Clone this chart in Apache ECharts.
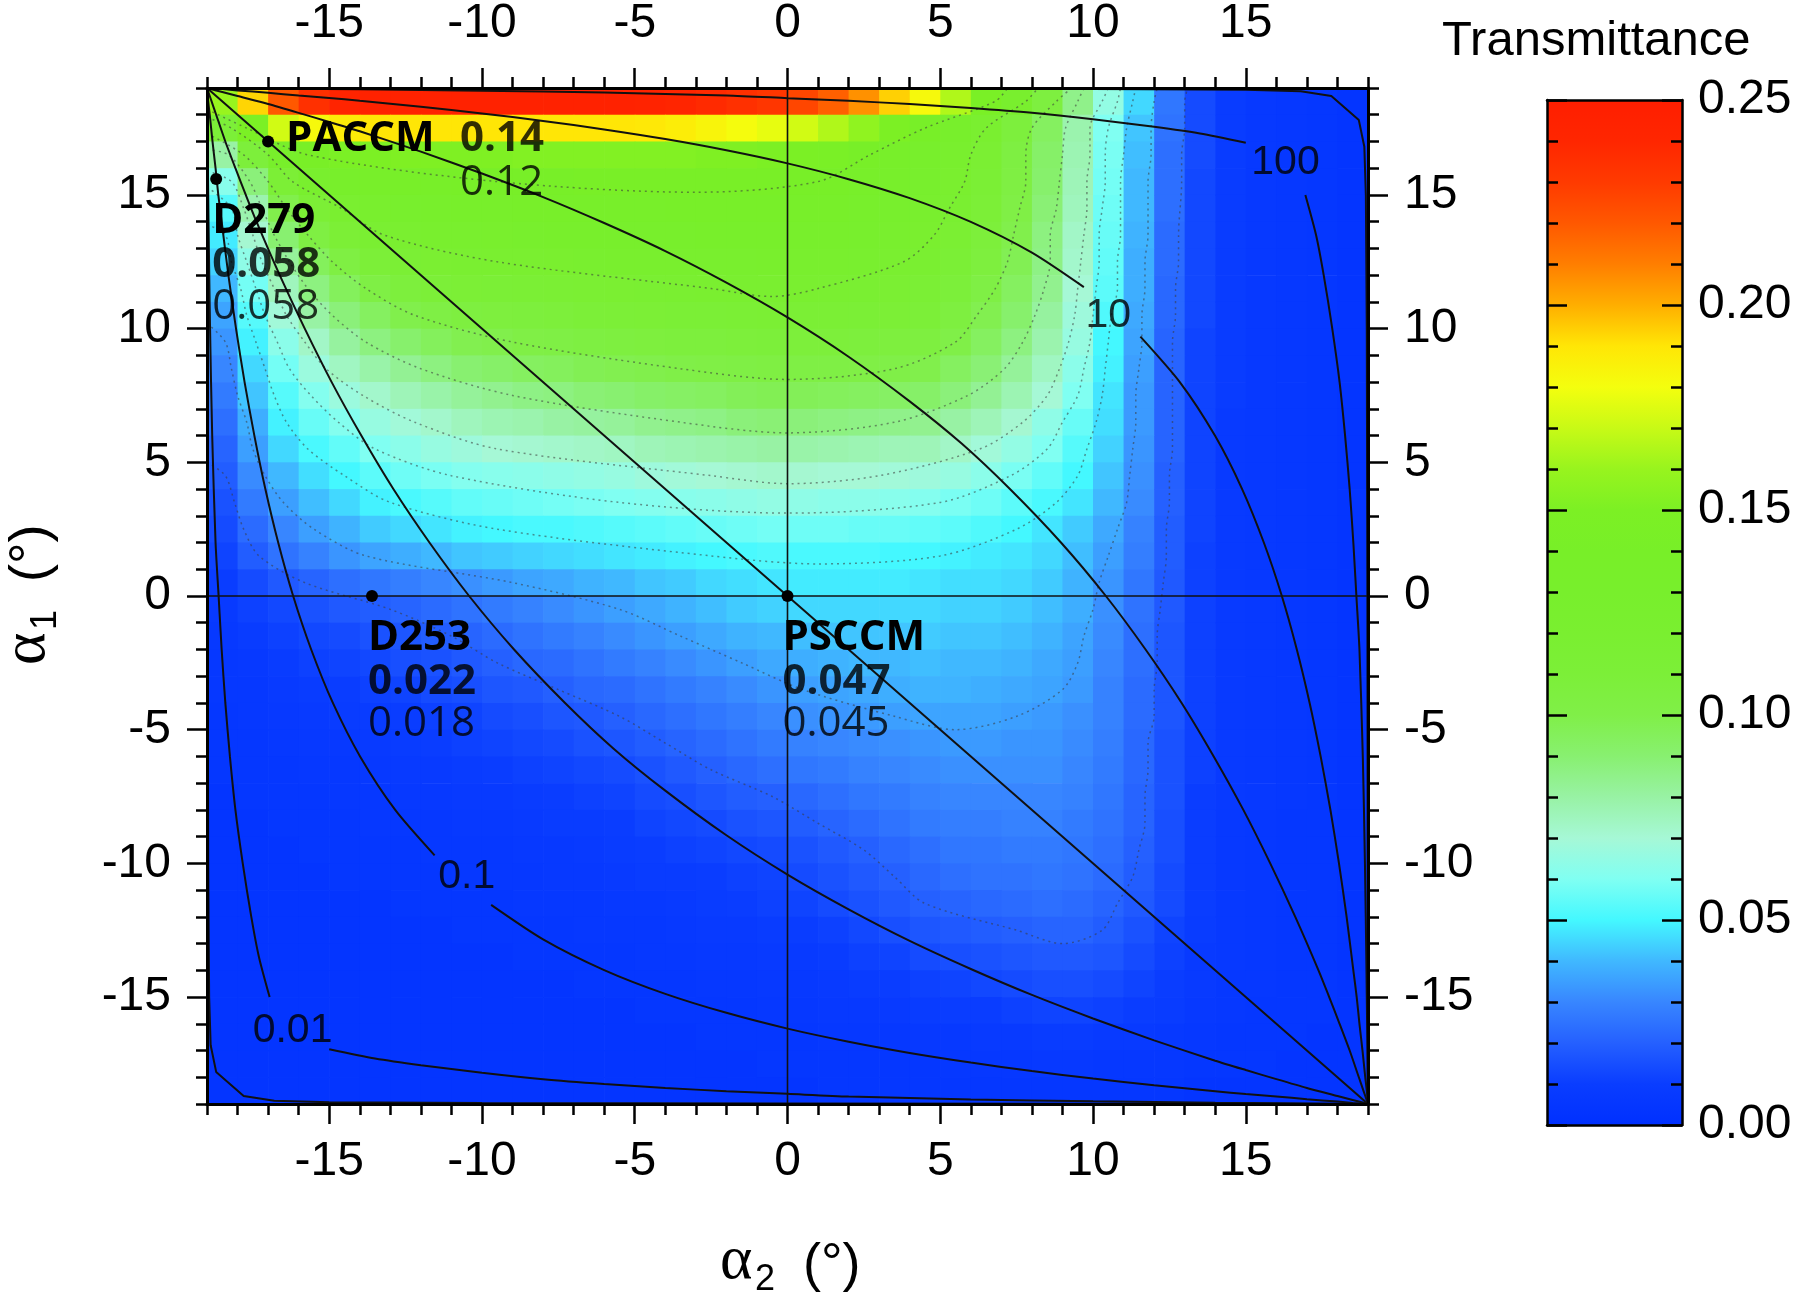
<!DOCTYPE html>
<html>
<head>
<meta charset="utf-8">
<script src="https://cdn.jsdelivr.net/npm/echarts@6/dist/echarts.min.js"></script>
<style>
  html, body { margin: 0; padding: 0; background: #fff; }
  #chart { width: 1800px; height: 1299px; }
</style>
</head>
<body>
<div id="chart"></div>
<script>
window.onload = init;

let chart;

// cell centres (degrees)
const alpha2Centers = [-18.5, -17.5, -16.5, -15.5, -14.5, -13.5, -12.5, -11.5, -10.5, -9.5,
    -8.5, -7.5, -6.5, -5.5, -4.5, -3.5, -2.5, -1.5, -0.5, 0.5, 1.5, 2.5, 3.5, 4.5, 5.5,
    6.5, 7.5, 8.5, 9.5, 10.5, 11.5, 12.5, 13.5, 14.5, 15.5, 16.5, 17.5, 18.5];
const alpha1Centers = [18.5, 17.5, 16.5, 15.5, 14.5, 13.5, 12.5, 11.5, 10.5, 9.5,
    8.5, 7.5, 6.5, 5.5, 4.5, 3.5, 2.5, 1.5, 0.5, -0.5, -1.5, -2.5, -3.5, -4.5, -5.5,
    -6.5, -7.5, -8.5, -9.5, -10.5, -11.5, -12.5, -13.5, -14.5, -15.5, -16.5, -17.5, -18.5];

// transmittance x 1000, one row per alpha1 (top row first)
const transRows = [
    [160,193,220,235,243,245,245,245,245,245,245,245,245,245,244,241,238,235,232,226,218,206,194,182,165,145,125,105,85,65,45,26,14,9,7,6,5,4],
    [110,148,172,182,188,190,190,190,190,190,190,190,190,190,189,187,184,181,177,172,165,157,149,140,130,120,107,94,78,60,42,25,14,9,7,6,5,4],
    [80,108,132,142,148,150,151,151,151,151,152,152,152,152,152,152,151,151,150,148,145,141,136,131,124,116,104,92,77,59,41,24,14,9,7,6,5,4],
    [62,88,112,124,132,136,137,138,139,140,141,141,142,142,142,142,142,142,142,141,139,136,132,128,122,114,103,91,76,58,40,24,13,9,7,6,5,4],
    [53,78,99,112,121,126,128,130,132,133,134,135,135,136,136,137,137,137,137,136,134,131,128,125,119,111,101,89,75,57,40,24,13,9,7,6,5,4],
    [48,71,90,103,112,118,121,124,126,127,128,129,130,130,131,131,132,132,132,131,130,128,125,122,116,108,99,87,73,56,39,23,13,9,7,6,5,4],
    [44,64,82,95,103,110,114,117,119,120,121,122,123,124,125,125,126,126,127,126,125,123,121,119,113,106,97,86,72,55,38,23,13,9,7,6,5,4],
    [40,58,75,87,95,102,107,110,112,113,114,115,116,117,118,119,120,120,121,120,119,118,116,114,109,102,94,84,70,54,38,22,13,9,7,6,5,4],
    [36,53,69,80,88,94,99,102,105,106,107,108,110,111,112,113,113,114,115,114,114,113,112,110,105,98,91,81,68,52,37,22,13,9,7,6,5,4],
    [33,49,63,73,81,87,91,95,98,99,101,102,104,105,106,107,107,108,109,108,108,107,106,105,100,94,87,78,66,50,36,21,12,9,7,6,5,4],
    [30,45,58,67,74,79,83,87,90,92,94,95,97,98,99,100,101,102,103,102,102,101,100,99,94,89,82,74,63,49,35,21,12,9,7,6,5,4],
    [27,42,53,61,67,72,76,79,82,84,86,87,89,90,92,93,94,96,97,96,95,94,93,92,88,83,77,70,60,47,34,21,12,9,7,6,5,4],
    [24,38,49,56,61,66,69,72,75,77,78,80,81,82,84,85,86,88,89,88,87,86,85,84,80,76,71,64,56,46,34,21,12,8,7,6,5,4],
    [21,35,45,51,55,60,63,66,68,70,71,72,73,74,76,77,78,79,80,79,78,77,76,76,73,69,65,60,53,44,33,21,12,8,7,6,5,4],
    [19,31,40,46,50,54,57,59,61,62,63,64,65,66,68,69,70,71,72,71,70,70,69,68,66,63,59,55,50,42,32,20,12,8,7,6,5,4],
    [16,27,35,41,45,49,51,53,55,56,57,58,59,60,61,62,63,64,65,64,63,63,62,61,59,57,54,51,47,40,31,20,12,8,7,6,5,4],
    [14,23,30,35,39,43,45,47,49,50,51,51,52,53,54,55,56,57,58,57,57,56,56,55,54,52,50,47,43,37,29,19,12,8,7,6,5,4],
    [12,19,25,29,33,36,38,40,42,43,44,45,46,47,48,49,50,51,52,51,51,51,50,50,49,48,47,45,41,35,28,19,11,8,7,6,5,4],
    [10,14,18,21,24,26,28,30,32,34,36,37,39,40,42,43,45,46,47,48,48,48,48,47,46,46,45,43,39,33,26,18,11,8,7,6,5,4],
    [8,11,13,16,18,19,21,23,25,27,29,31,33,35,37,39,41,43,44,45,45,45,45,45,44,44,43,41,38,32,25,18,11,8,7,6,5,4],
    [7,9,11,13,14,16,17,19,21,23,25,27,29,31,33,35,37,39,40,41,42,42,42,43,42,42,41,39,36,31,24,17,11,8,7,6,5,4],
    [6,7,9,11,12,13,15,16,18,20,22,23,25,27,29,31,33,35,37,38,39,40,40,41,40,40,39,37,35,30,24,17,11,8,7,6,5,4],
    [6,6,8,9,10,11,12,14,15,17,18,20,22,23,25,27,29,31,33,35,36,37,38,39,39,38,37,36,34,29,23,17,11,8,7,6,5,4],
    [5,6,7,8,9,9,10,11,12,14,15,17,18,20,22,24,26,28,30,32,33,34,35,36,36,36,35,34,32,29,23,17,11,8,7,6,5,4],
    [5,5,6,7,7,8,9,10,11,12,13,14,16,17,19,21,23,25,27,29,30,31,32,33,34,34,33,33,31,28,22,16,11,8,7,6,5,4],
    [5,5,5,6,6,7,8,8,9,10,11,12,13,14,16,18,20,22,24,26,27,29,30,31,32,32,32,32,30,27,22,16,11,8,7,6,5,4],
    [4,5,5,5,6,6,7,7,8,8,9,10,11,12,14,15,17,19,20,22,24,26,27,29,30,30,30,30,29,26,21,16,10,8,7,6,5,4],
    [4,4,5,5,5,6,6,6,7,7,8,9,9,10,12,13,14,16,17,19,21,23,25,27,28,28,29,29,27,25,21,15,10,7,6,5,5,4],
    [4,4,4,5,5,5,5,6,6,6,7,7,8,9,10,11,12,13,14,16,18,20,22,24,26,26,27,27,26,24,20,15,10,7,6,5,5,4],
    [4,4,4,4,5,5,5,5,6,6,6,7,7,8,9,9,10,11,12,14,16,18,20,22,24,25,25,26,25,23,19,14,10,7,6,5,5,4],
    [4,4,4,4,4,4,5,5,5,5,6,6,6,7,7,8,9,10,11,12,14,16,18,20,21,22,23,24,23,21,18,14,10,7,6,5,5,4],
    [4,4,4,4,4,4,4,4,5,5,5,5,6,6,6,7,8,8,9,10,11,13,15,17,18,19,20,21,21,19,16,12,9,7,6,5,5,4],
    [4,4,4,4,4,4,4,4,4,4,5,5,5,5,6,6,7,7,8,8,9,11,12,14,15,16,17,18,18,17,14,11,8,7,6,5,5,4],
    [4,4,4,4,4,4,4,4,4,4,4,4,5,5,5,5,6,6,7,7,8,9,10,11,12,13,14,15,15,14,12,10,8,6,6,5,5,4],
    [4,4,4,4,4,4,4,4,4,4,4,4,4,4,5,5,5,5,6,6,7,7,8,9,10,10,11,12,12,11,10,9,7,6,5,5,5,4],
    [4,4,4,4,4,4,4,4,4,4,4,4,4,4,4,4,5,5,5,5,6,6,6,7,7,8,8,9,9,8,8,7,6,5,5,5,4,4],
    [4,4,4,4,4,4,4,4,4,4,4,4,4,4,4,4,4,4,5,5,5,5,5,5,6,6,6,7,7,6,6,6,5,5,5,4,4,4],
    [4,4,4,4,4,4,4,4,4,4,4,4,4,4,4,4,4,4,4,4,5,5,5,5,5,5,5,5,5,5,5,5,4,4,4,4,4,4]
];

// colour scale, one colour per 0.01 from 0.00 to 0.25
const scaleColors = ['#0030ff', '#0a3dff', '#2560ff', '#3886ff', '#40b8ff', '#44f8ff',
    '#80fff2', '#a6f8d6', '#98f2a4', '#88f070', '#80ef48', '#7cef38', '#7aef30', '#78ef2c',
    '#78ef28', '#7cf024', '#98f41e', '#c8fa16', '#f4fe0e', '#ffe606', '#ffae00', '#ff7e00',
    '#ff5800', '#ff3a00', '#ff2600', '#ff1e00'];

const majorTicks = [-15, -10, -5, 0, 5, 10, 15];
const minorTicks = [-19, -18, -17, -16, -15, -14, -13, -12, -11, -10, -9, -8, -7, -6, -5, -4, -3,
    -2, -1, 0, 1, 2, 3, 4, 5, 6, 7, 8, 9, 10, 11, 12, 13, 14, 15, 16, 17, 18, 19];

// solid lines of constant ratio (alpha2, alpha1)
const ratio1 = [[-19, 19], [0, 0], [19, -19]];
const ratioHighD = [[-19, 19], [-18.5, 18.85], [-18, 18.7], [-17, 18.4], [-16, 18.07], [-15, 17.73],
    [-14, 17.38], [-12, 16.62], [-10, 15.8], [-8, 14.92], [-6, 13.95], [-4, 12.9], [-2, 11.72],
    [0, 10.42], [2, 8.95], [4, 7.28], [5.7, 5.7], [7.28, 4], [8.95, 2], [10.42, 0], [11.72, -2],
    [12.9, -4], [13.95, -6], [14.92, -8], [15.8, -10], [16.62, -12], [17.38, -14], [17.73, -15],
    [18.07, -16], [18.4, -17], [18.7, -18], [18.85, -18.5], [19, -19]];
const ratioLowD = [[-19, 19], [-18.85, 18.5], [-18.7, 18], [-18.4, 17], [-18.07, 16], [-17.73, 15],
    [-17.38, 14], [-16.62, 12], [-15.8, 10], [-14.92, 8], [-13.95, 6], [-12.9, 4], [-11.72, 2],
    [-10.42, 0], [-8.95, -2], [-7.28, -4], [-5.7, -5.7], [-4, -7.28], [-2, -8.95], [0, -10.42],
    [2, -11.72], [4, -12.9], [6, -13.95], [8, -14.92], [10, -15.8], [12, -16.62], [14, -17.38],
    [15, -17.73], [16, -18.07], [17, -18.4], [18, -18.7], [18.5, -18.85], [19, -19]];
const ratio10a = [[-19, 19], [-18.5, 18.96], [-18, 18.91], [-17, 18.82], [-16, 18.72], [-15, 18.63],
    [-14, 18.52], [-12, 18.3], [-10, 18.05], [-8, 17.77], [-6, 17.45], [-4, 17.09], [-2, 16.67],
    [0, 16.18], [2, 15.59], [4, 14.88], [6, 13.99], [8, 12.84], [9.7, 11.55]];
const ratio10b = [[11.55, 9.7], [12.84, 8], [13.99, 6], [14.88, 4], [15.59, 2], [16.18, 0],
    [16.67, -2], [17.09, -4], [17.45, -6], [17.77, -8], [18.05, -10], [18.3, -12], [18.52, -14],
    [18.63, -15], [18.72, -16], [18.82, -17], [18.91, -18], [18.96, -18.5], [19, -19]];
const ratio01a = [[-19, 19], [-18.96, 18.5], [-18.91, 18], [-18.82, 17], [-18.72, 16], [-18.63, 15],
    [-18.52, 14], [-18.3, 12], [-18.05, 10], [-17.77, 8], [-17.45, 6], [-17.09, 4], [-16.67, 2],
    [-16.18, 0], [-15.59, -2], [-14.88, -4], [-13.99, -6], [-12.84, -8], [-11.55, -9.7]];
const ratio01b = [[-9.7, -11.55], [-8, -12.84], [-6, -13.99], [-4, -14.88], [-2, -15.59], [0, -16.18],
    [2, -16.67], [4, -17.09], [6, -17.45], [8, -17.77], [10, -18.05], [12, -18.3], [14, -18.52],
    [15, -18.63], [16, -18.72], [17, -18.82], [18, -18.91], [18.5, -18.96], [19, -19]];
const ratio100a = [[-19, 19], [-14, 18.95], [-10, 18.9], [-6, 18.83], [-2, 18.72], [0, 18.62],
    [2, 18.52], [4, 18.4], [6, 18.25], [8, 18.07], [10, 17.83], [12, 17.55], [13.5, 17.3], [15, 16.95]];
const ratio100b = [[16.95, 15], [17.3, 13.5], [17.55, 12], [17.83, 10], [18.07, 8], [18.25, 6],
    [18.4, 4], [18.52, 2], [18.62, 0], [18.72, -2], [18.83, -6], [18.9, -10], [18.95, -14], [19, -19]];
const ratio001a = [[-19, 19], [-18.95, 14], [-18.9, 10], [-18.83, 6], [-18.72, 2], [-18.62, 0],
    [-18.52, -2], [-18.4, -4], [-18.25, -6], [-18.07, -8], [-17.83, -10], [-17.55, -12],
    [-17.3, -13.5], [-16.95, -15]];
const ratio001b = [[-15, -16.95], [-13.5, -17.3], [-12, -17.55], [-10, -17.83], [-8, -18.07],
    [-6, -18.25], [-4, -18.4], [-2, -18.52], [0, -18.62], [2, -18.72], [6, -18.83], [10, -18.9],
    [14, -18.95], [19, -19]];
const ratioCornerHigh = [[-19, 19], [0, 18.98], [10, 18.96], [15, 18.93], [16.8, 18.88], [17.8, 18.7],
    [18.25, 18.25], [18.7, 17.8], [18.88, 16.8], [18.93, 15], [18.96, 10], [18.98, 0], [19, -19]];
const ratioCornerLow = [[-19, 19], [-18.98, 0], [-18.96, -10], [-18.93, -15], [-18.88, -16.8],
    [-18.7, -17.8], [-18.25, -18.25], [-17.8, -18.7], [-16.8, -18.88], [-15, -18.93], [-10, -18.96],
    [0, -18.98], [19, -19]];

const ratioLabels = ['0.01', '0.1', '10', '100'];
const ratioLabelAt = [[-16.2, -16.25], [-10.5, -10.5], [10.5, 10.5], [16.3, 16.2]];

// dotted iso-transmittance lines, as seen on the map
const iso014 = [[-19, 18.2], [-17.7, 17.5], [-15.7, 16.5], [-9.5, 15.5], [-3, 15.1], [1, 15.5],
    [2.7, 16.5], [4.5, 17.5], [6.8, 18.5], [7.2, 19]];
const iso012 = [[-19, 17.9], [-18.2, 17.5], [-17, 16.5], [-16.2, 15.5], [-14.6, 14.5], [-13.2, 13.5],
    [-9.5, 12.5], [-2.5, 11.5], [-0.5, 11.2], [1, 11.5], [3.8, 12.5], [4.8, 13.5], [5.3, 14.5],
    [5.8, 15.5], [6, 16.5], [6.5, 17.5], [7.8, 18.5], [8.2, 19]];
const iso010 = [[-19, 17.3], [-17.8, 16.5], [-17, 15.5], [-16.4, 14.5], [-15.7, 13.5], [-14.9, 12.5],
    [-13.8, 11.5], [-12.2, 10.5], [-9, 9.5], [-3.5, 8.5], [0, 8.1], [3.5, 8.5], [5.5, 9.5],
    [6.2, 10.5], [6.8, 11.5], [7.2, 12.5], [7.4, 13.5], [7.6, 14.5], [7.8, 15.5], [7.8, 16.5],
    [8, 17.5], [8.8, 18.5], [9.3, 19]];
const iso0085 = [[-19, 16.7], [-18.3, 16.5], [-17.6, 15.5], [-17.2, 14.5], [-16.8, 13.5], [-16.3, 12.5],
    [-15.7, 11.5], [-14.9, 10.5], [-13.8, 9.5], [-12, 8.5], [-9, 7.5], [-3.5, 6.5], [0, 6.1],
    [3.5, 6.5], [5.9, 7.5], [7.1, 8.5], [7.7, 9.5], [8.1, 10.5], [8.4, 11.5], [8.6, 12.5],
    [8.6, 13.5], [8.8, 14.5], [8.9, 15.5], [9, 16.5], [9.1, 17.5], [9.5, 18.5], [9.7, 19]];
const iso007 = [[-19, 15.9], [-18.2, 15.5], [-17.8, 14.5], [-17.5, 13.5], [-17.2, 12.5], [-16.8, 11.5],
    [-16.4, 10.5], [-15.8, 9.5], [-15.1, 8.5], [-13.9, 7.5], [-12.2, 6.5], [-9.5, 5.5], [-2.5, 4.5],
    [0, 4.2], [3, 4.5], [6.3, 5.5], [7.7, 6.5], [8.5, 7.5], [8.9, 8.5], [9.2, 9.5], [9.4, 10.5],
    [9.5, 11.5], [9.6, 12.5], [9.7, 13.5], [9.8, 14.5], [9.8, 15.5], [9.9, 16.5], [9.9, 17.5],
    [10.3, 18.5], [10.5, 19]];
const iso006 = [[-19, 15.3], [-18.2, 14.5], [-18, 13.5], [-17.7, 12.5], [-17.4, 11.5], [-17.1, 10.5],
    [-16.7, 9.5], [-16.3, 8.5], [-15.6, 7.5], [-14.7, 6.5], [-13.5, 5.5], [-11, 4.5], [-5.5, 3.5],
    [0, 3.1], [5, 3.5], [7.3, 4.5], [8.5, 5.5], [9, 6.5], [9.5, 7.5], [9.7, 8.5], [9.9, 9.5],
    [10, 10.5], [10.1, 11.5], [10.2, 12.5], [10.2, 13.5], [10.3, 14.5], [10.4, 15.5], [10.4, 16.5],
    [10.5, 17.5], [10.8, 18.5], [10.9, 19]];
const iso005 = [[-19, 13.9], [-18.4, 13.5], [-18.2, 12.5], [-17.9, 11.5], [-17.7, 10.5], [-17.4, 9.5],
    [-17.1, 8.5], [-16.8, 7.5], [-16.4, 6.5], [-15.7, 5.5], [-14.5, 4.5], [-13, 3.5], [-9.5, 2.5],
    [-2.5, 1.5], [1, 1.2], [5, 1.5], [7.5, 2.5], [8.8, 3.5], [9.5, 4.5], [9.8, 5.5], [10.1, 6.5],
    [10.3, 7.5], [10.4, 8.5], [10.5, 9.5], [10.6, 10.5], [10.8, 11.5], [10.8, 12.5], [10.9, 13.5],
    [10.9, 14.5], [10.9, 15.5], [11, 16.5], [11.1, 17.5], [11.3, 18.5], [11.4, 19]];
const iso0035 = [[-19, 10.2], [-18.4, 9.5], [-18.2, 8.5], [-18, 7.5], [-17.7, 6.5], [-17.5, 5.5],
    [-17.1, 4.5], [-16.5, 3.5], [-15.5, 2.5], [-13.8, 1.5], [-9, 0.5], [-5.5, -0.5], [-3.5, -1.5],
    [-1.5, -2.5], [0.5, -3.5], [3.5, -4.5], [5.5, -5], [7.5, -4.5], [9, -3.5], [9.5, -2.5],
    [9.7, -1.5], [10, -0.5], [10.2, 0.5], [10.5, 1.5], [10.8, 2.5], [11.1, 3.5], [11.2, 4.5],
    [11.3, 5.5], [11.4, 6.5], [11.4, 7.5], [11.5, 8.5], [11.6, 9.5], [11.6, 10.5], [11.7, 11.5],
    [11.7, 12.5], [11.8, 13.5], [11.8, 14.5], [11.8, 15.5], [11.9, 16.5], [11.9, 17.5], [12, 18.5],
    [12.1, 19]];
const iso002 = [[-19, 5], [-18.4, 4.5], [-18.1, 3.5], [-17.8, 2.5], [-17.3, 1.5], [-15.8, 0.5],
    [-13, -0.5], [-11, -1.5], [-9.5, -2.5], [-7.5, -3.5], [-5.5, -4.5], [-4, -5.5], [-2.5, -6.5],
    [-0.5, -7.5], [1, -8.5], [2.5, -9.5], [3.5, -10.5], [4.5, -11.5], [7.5, -12.5], [9, -13],
    [10.3, -12.5], [10.8, -11.5], [11.3, -10.5], [11.5, -9.5], [11.7, -8.5], [11.7, -7.5],
    [11.8, -6.5], [11.8, -5.5], [12, -4.5], [12, -3.5], [12.1, -2.5], [12.1, -1.5], [12.2, -0.5],
    [12.3, 0.5], [12.4, 1.5], [12.4, 2.5], [12.5, 3.5], [12.5, 4.5], [12.6, 5.5], [12.6, 7.5],
    [12.6, 9.5], [12.7, 10.5], [12.7, 11.5], [12.8, 12.5], [12.8, 13.5], [12.9, 15.5], [12.9, 16.5],
    [13, 17.5], [13, 18.5], [13.1, 19]];

// designs
const pointNames = ['PACCM', 'D279', 'D253', 'PSCCM'];
const pointAlpha2 = [-17, -18.7, -13.6, 0];
const pointAlpha1 = [17, 15.6, 0, 0];
const boldValues = ['0.14', '0.058', '0.022', '0.047'];
const plainValues = ['0.12', '0.058', '0.018', '0.045'];

function init() {
    chart = echarts.init(document.getElementById('chart'), null, { renderer: 'canvas' });

    let cells = [];
    transRows.forEach((row, r) => {
        row.forEach((v, c) => {
            cells.push([alpha2Centers[c], alpha1Centers[r], v / 1000]);
        });
    });

    let points = pointNames.map((n, i) => ({ name: n, value: [pointAlpha2[i], pointAlpha1[i]] }));

    // label offsets in pixels, relative to each point
    let nameOffsets = [[18, -2], [-4, 42], [-4, 42], [-5, 42]];
    let boldOffsets = [[192, -2], [-4, 86], [-4, 86], [-5, 86]];
    let plainOffsets = [[192, 42], [-4, 128], [-4, 128], [-5, 128]];

    const black = '#000';
    const tickFont = 'Liberation Sans, Arial, sans-serif';
    const noteFont = 'Open Sans, Noto Sans, sans-serif';

    function mainAxis(position, major, isX) {
        return {
            gridIndex: 0,
            type: 'value',
            min: -19,
            max: 19,
            position: position,
            z: 10,
            axisLine: { show: true, onZero: false, lineStyle: { color: black, width: 3 } },
            axisTick: {
                show: true,
                inside: false,
                customValues: major ? majorTicks : minorTicks,
                length: major ? 20 : 11,
                lineStyle: { color: black, width: 2.5 }
            },
            axisLabel: {
                show: major,
                customValues: majorTicks,
                color: black,
                fontSize: 48,
                fontFamily: tickFont,
                margin: isX ? (position === 'top' ? 40 : 34) : 36
            },
            splitLine: { show: false }
        };
    }

    function barAxis(position, labels) {
        return {
            gridIndex: 1,
            type: 'value',
            min: 0,
            max: 0.25,
            interval: 0.05,
            position: position,
            z: 10,
            axisLine: { show: true, onZero: false, lineStyle: { color: black, width: 2.5 } },
            axisTick: { show: true, inside: true, length: 20, lineStyle: { color: black, width: 2.5 } },
            minorTick: { show: true, splitNumber: 5, length: 11, lineStyle: { color: black, width: 2.5 } },
            axisLabel: {
                show: labels,
                color: black,
                fontSize: 48,
                fontFamily: tickFont,
                margin: 16,
                formatter: v => v.toFixed(2)
            },
            splitLine: { show: false },
            minorSplitLine: { show: false }
        };
    }

    function barEdge(position) {
        return {
            gridIndex: 1, type: 'value', min: 0, max: 1, position: position, z: 10,
            axisLine: { show: true, onZero: false, lineStyle: { color: black, width: 2.5 } },
            axisTick: { show: false }, axisLabel: { show: false }, splitLine: { show: false }
        };
    }

    function ratioLine(data, smooth) {
        return {
            type: 'line',
            data: data,
            xAxisIndex: 0,
            yAxisIndex: 0,
            showSymbol: false,
            symbol: 'none',
            smooth: smooth,
            silent: true,
            z: 5,
            lineStyle: { color: '#111', width: 2 }
        };
    }

    function isoLine(data) {
        return {
            type: 'line',
            data: data,
            xAxisIndex: 0,
            yAxisIndex: 0,
            showSymbol: false,
            symbol: 'none',
            smooth: 0.3,
            silent: true,
            z: 3,
            lineStyle: { color: '#3a3a3a', width: 1.5, type: [2, 4], opacity: 0.55 }
        };
    }

    let barStops = scaleColors.map((c, i) => ({ offset: i / (scaleColors.length - 1), color: c }));

    let options = {
        animation: false,
        backgroundColor: '#fff',
        grid: [
            { left: 207, top: 86, width: 1161, height: 1018 },
            { left: 1547, top: 100, width: 135, height: 1025 }
        ],
        xAxis: [
            mainAxis('bottom', true, true),
            mainAxis('bottom', false, true),
            mainAxis('top', true, true),
            mainAxis('top', false, true),
            barEdge('bottom'),
            barEdge('top')
        ],
        yAxis: [
            mainAxis('left', true, false),
            mainAxis('left', false, false),
            mainAxis('right', true, false),
            mainAxis('right', false, false),
            barAxis('left', false),
            barAxis('right', true)
        ],
        visualMap: {
            type: 'continuous',
            show: false,
            seriesIndex: 0,
            dimension: 2,
            min: 0,
            max: 0.25,
            inRange: { color: scaleColors }
        },
        graphic: [
            {
                type: 'text', left: 1442, top: 17, z: 20,
                style: { text: 'Transmittance', fontSize: 49, fontFamily: tickFont, fill: black }
            },
            {
                type: 'group', x: 789, y: 1266, z: 20,
                children: [
                    { type: 'text', x: -69, y: -4, style: { text: 'α', fontSize: 62, fontFamily: 'Liberation Serif, serif', fill: black, verticalAlign: 'middle' } },
                    { type: 'text', x: -34, y: 14, style: { text: '2', fontSize: 36, fontFamily: tickFont, fill: black, verticalAlign: 'middle' } },
                    { type: 'text', x: 14, y: 0, style: { text: '(°)', fontSize: 54, fontFamily: tickFont, fill: black, verticalAlign: 'middle' } }
                ]
            },
            {
                type: 'group', x: 32, y: 596, rotation: Math.PI / 2, z: 20,
                children: [
                    { type: 'text', x: -69, y: -4, style: { text: 'α', fontSize: 62, fontFamily: 'Liberation Serif, serif', fill: black, verticalAlign: 'middle' } },
                    { type: 'text', x: -34, y: 14, style: { text: '1', fontSize: 36, fontFamily: tickFont, fill: black, verticalAlign: 'middle' } },
                    { type: 'text', x: 14, y: 0, style: { text: '(°)', fontSize: 54, fontFamily: tickFont, fill: black, verticalAlign: 'middle' } }
                ]
            }
        ],
        series: [
            {
                type: 'custom',
                name: 'Transmittance',
                xAxisIndex: 0,
                yAxisIndex: 0,
                data: cells,
                silent: true,
                z: 1,
                renderItem: (params, api) => {
                    let x = api.value(0);
                    let y = api.value(1);
                    let p0 = api.coord([x - 0.5, y + 0.5]);
                    let p1 = api.coord([x + 0.5, y - 0.5]);
                    return {
                        type: 'rect',
                        shape: { x: p0[0], y: p0[1], width: p1[0] - p0[0] + 0.7, height: p1[1] - p0[1] + 0.7 },
                        style: { fill: api.visual('color') }
                    };
                }
            },
            {
                type: 'custom',
                name: 'colour bar',
                xAxisIndex: 4,
                yAxisIndex: 4,
                data: [[0, 0]],
                silent: true,
                z: 1,
                renderItem: (params, api) => {
                    let p0 = api.coord([0, 0.25]);
                    let p1 = api.coord([1, 0]);
                    return {
                        type: 'rect',
                        shape: { x: p0[0], y: p0[1], width: p1[0] - p0[0], height: p1[1] - p0[1] },
                        style: { fill: new echarts.graphic.LinearGradient(0, 1, 0, 0, barStops) }
                    };
                }
            },
            isoLine(iso014),
            isoLine(iso012),
            isoLine(iso010),
            isoLine(iso0085),
            isoLine(iso007),
            isoLine(iso006),
            isoLine(iso005),
            isoLine(iso0035),
            isoLine(iso002),
            {
                type: 'line', data: [[-19, 0], [19, 0]], showSymbol: false, symbol: 'none', silent: true, z: 4,
                lineStyle: { color: '#111', width: 1.6 }
            },
            {
                type: 'line', data: [[0, -19], [0, 19]], showSymbol: false, symbol: 'none', silent: true, z: 4,
                lineStyle: { color: '#111', width: 1.6 }
            },
            ratioLine(ratio1, false),
            ratioLine(ratioHighD, 0.25),
            ratioLine(ratioLowD, 0.25),
            ratioLine(ratio10a, 0.25),
            ratioLine(ratio10b, 0.25),
            ratioLine(ratio01a, 0.25),
            ratioLine(ratio01b, 0.25),
            ratioLine(ratio100a, 0.25),
            ratioLine(ratio100b, 0.25),
            ratioLine(ratio001a, 0.25),
            ratioLine(ratio001b, 0.25),
            ratioLine(ratioCornerHigh, false),
            ratioLine(ratioCornerLow, false),
            {
                type: 'scatter',
                name: 'ratio labels',
                data: ratioLabels.map((t, i) => ({ name: t, value: ratioLabelAt[i] })),
                symbolSize: 0,
                silent: true,
                z: 8,
                label: {
                    show: true, formatter: '{b}', position: 'inside',
                    fontSize: 41, fontFamily: tickFont, color: black
                }
            },
            {
                type: 'scatter',
                name: 'designs',
                data: points.map((p, i) => ({
                    name: p.name, value: p.value,
                    label: { offset: nameOffsets[i] }
                })),
                symbolSize: 12,
                itemStyle: { color: black, opacity: 1 },
                silent: true,
                z: 9,
                label: {
                    show: true, formatter: '{b}', position: 'inside', align: 'left', verticalAlign: 'middle',
                    fontSize: 42, fontWeight: 'bold', fontFamily: noteFont, color: black
                }
            },
            {
                type: 'scatter',
                name: 'bold values',
                data: points.map((p, i) => ({
                    name: boldValues[i], value: p.value,
                    label: { offset: boldOffsets[i] }
                })),
                symbolSize: 0,
                silent: true,
                z: 9,
                label: {
                    show: true, formatter: '{b}', position: 'inside', align: 'left', verticalAlign: 'middle',
                    fontSize: 42, fontWeight: 'bold', fontFamily: noteFont, color: black
                }
            },
            {
                type: 'scatter',
                name: 'plain values',
                data: points.map((p, i) => ({
                    name: plainValues[i], value: p.value,
                    label: { offset: plainOffsets[i] }
                })),
                symbolSize: 0,
                silent: true,
                z: 9,
                label: {
                    show: true, formatter: '{b}', position: 'inside', align: 'left', verticalAlign: 'middle',
                    fontSize: 42, fontWeight: 'normal', fontFamily: noteFont, color: black
                }
            }
        ]
    };

    chart.setOption(options);
}
</script>
</body>
</html>
